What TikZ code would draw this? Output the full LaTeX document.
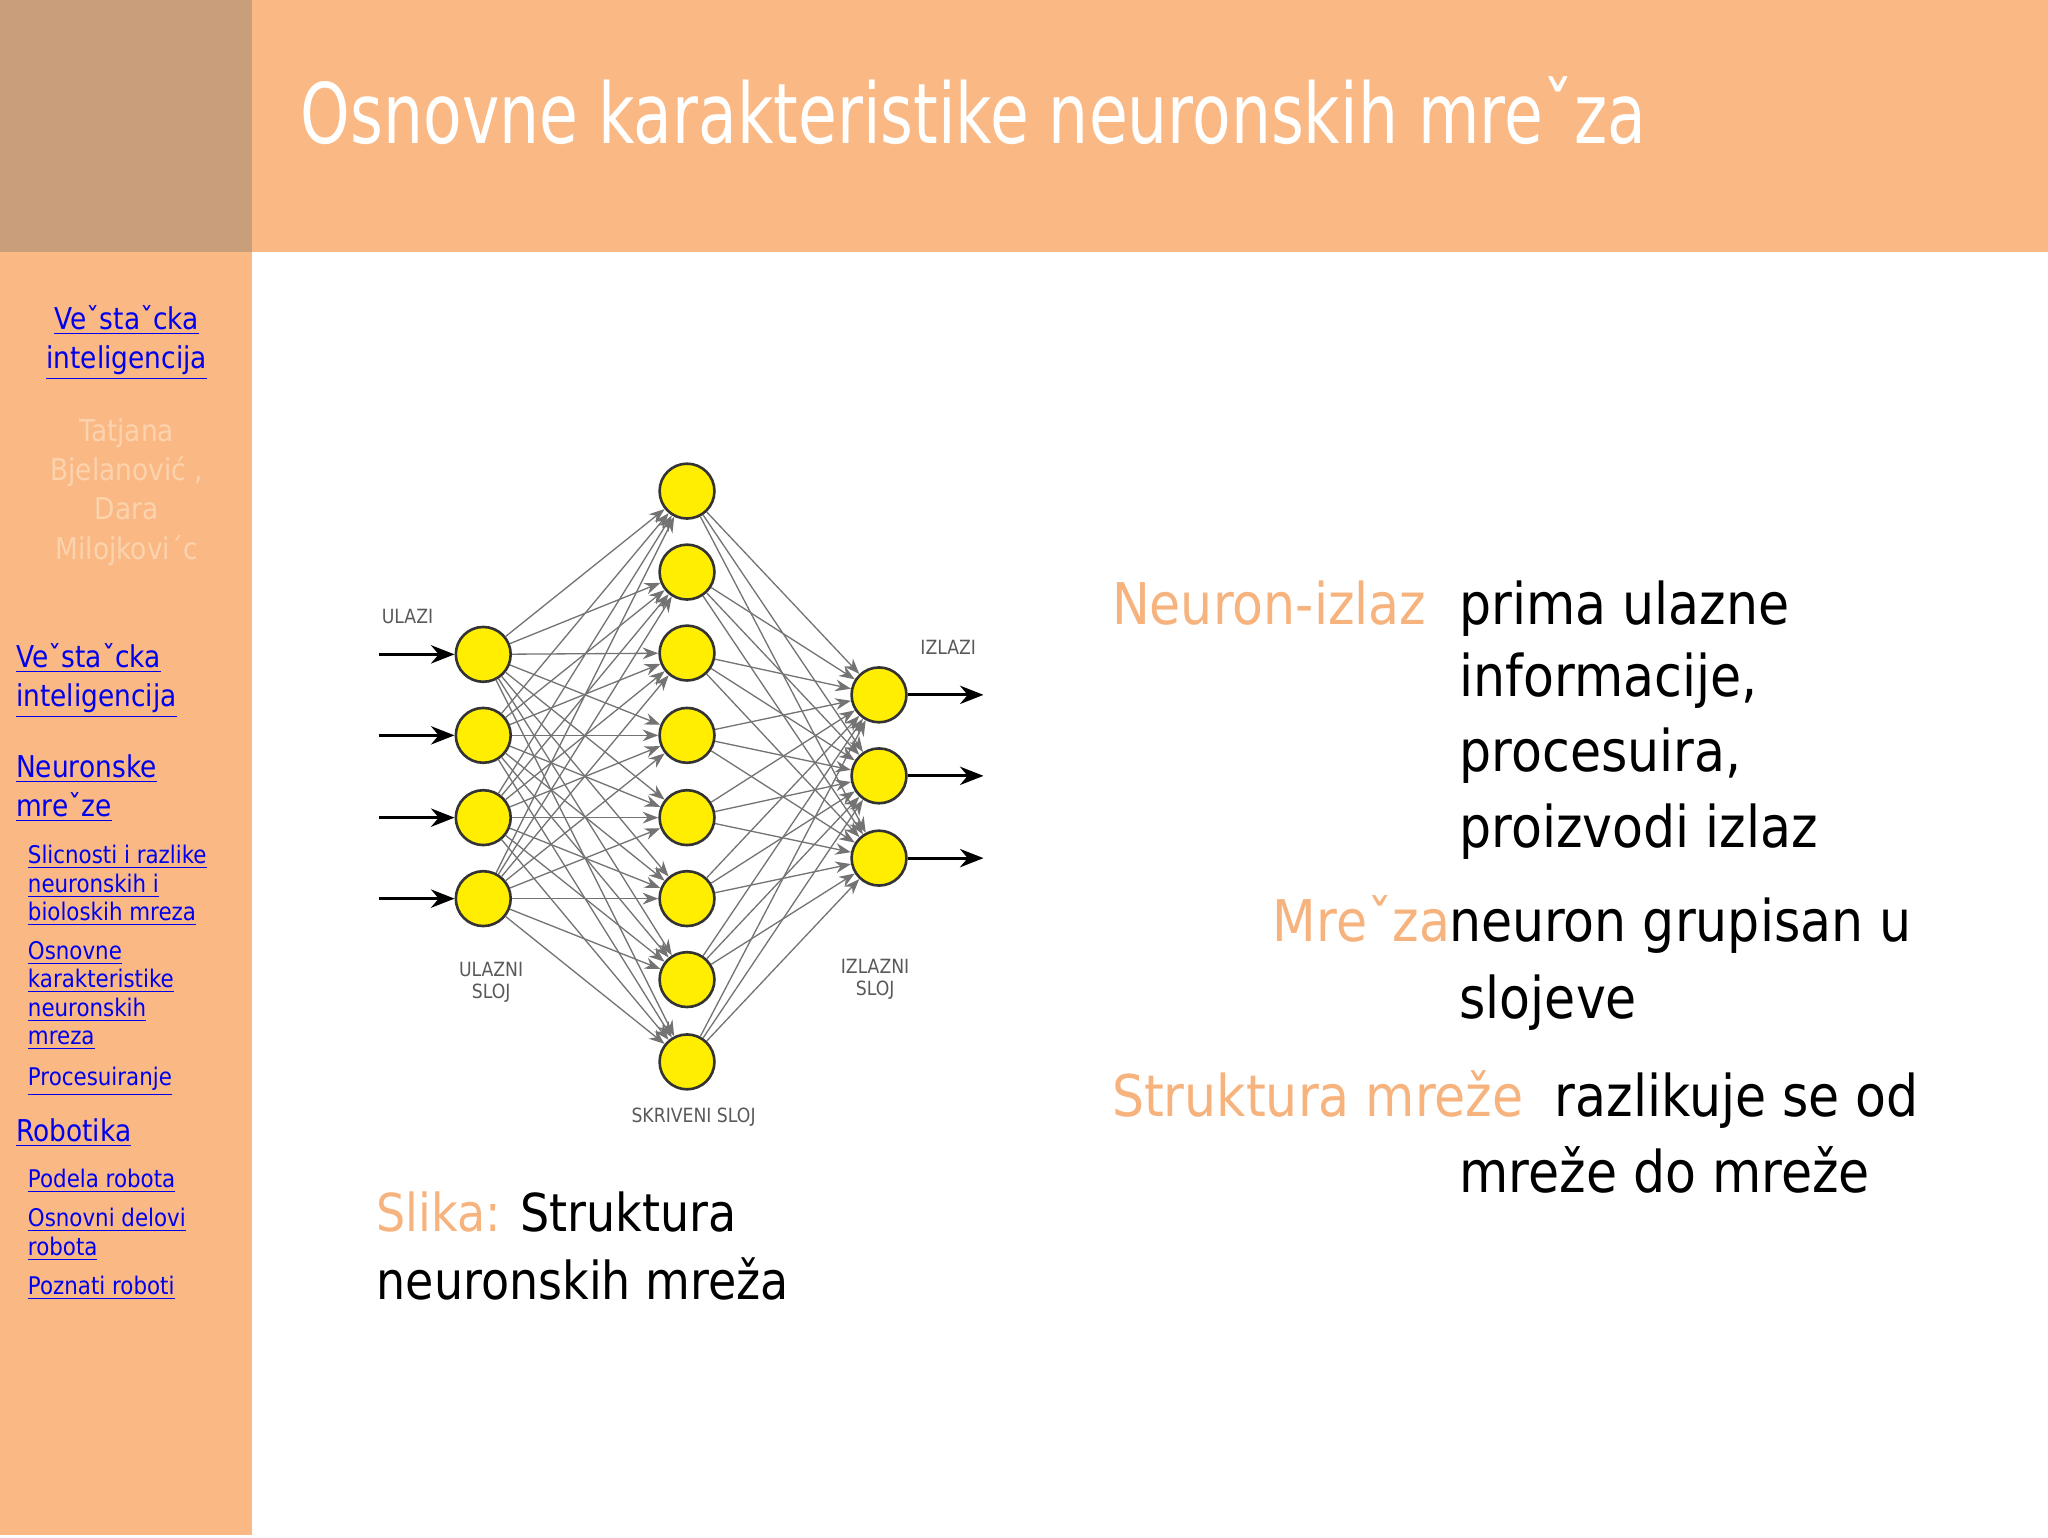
\documentclass[tikz,border=0pt]{standalone}
\usepackage{fontspec}
\setmainfont[FakeStretch=0.88]{DejaVu Sans}
\usetikzlibrary{arrows.meta}
\definecolor{org}{HTML}{F9B884}
\definecolor{tan}{HTML}{C89E7B}
\definecolor{lnk}{HTML}{0000EE}
\definecolor{otx}{HTML}{F7B37E}
\definecolor{ytx}{HTML}{FDD3AE}
\definecolor{yel}{HTML}{FFEE00}
\tikzset{
 neu/.style={circle,draw=black!80,fill=yel,line width=1pt,minimum size=21pt,inner sep=0},
 edge/.style={draw=black!55,line width=0.5pt,-{Stealth[length=6pt,width=4.5pt]}},
 io/.style={draw=black,line width=1.2pt,-{Stealth[length=9pt,width=7pt]}},
 lab/.style={font=\fontsize{7.5}{8.5}\selectfont,text=black!65,align=center},
 tx/.style={anchor=base west,inner sep=0,font=\fontsize{22}{26}\selectfont},
 big/.style={anchor=base west,inner sep=0,align=left,text=lnk,font=\fontsize{11.5}{15}\selectfont},
 sml/.style={anchor=base west,inner sep=0,align=left,text=lnk,font=\fontsize{9.3}{10.9}\selectfont},
}
\begin{document}
\begin{tikzpicture}[x=0.5pt,y=-0.5pt]
\useasboundingbox (0,0) rectangle (1568,1177);
\fill[white] (0,0) rectangle (1568,1177);
\fill[org] (193,0) rectangle (1568,193);
\fill[tan] (0,0) rectangle (193,193);
\fill[org] (0,193) rectangle (193,1175);
\node[anchor=base west,inner sep=0,text=white,font=\addfontfeature{FakeStretch=0.755}\fontsize{32}{40}\selectfont] (title) at (230,110) {Osnovne karakteristike neuronskih mreˇza};
% sidebar
\node[anchor=base,inner sep=0,align=center,text=lnk,font=\fontsize{11.5}{15}\selectfont] (s1) at (97,282) {\underline{Veˇstaˇcka}\\\underline{inteligencija}};
\node[anchor=base,inner sep=0,align=center,text=ytx,font=\fontsize{11.5}{15}\selectfont] (s2) at (97,428) {Tatjana\\Bjelanović ,\\Dara\\Milojkovi´c};
\node[big] (s3) at (12,541) {\underline{Veˇstaˇcka}\\\underline{inteligencija}};
\node[big] (s4) at (12,625) {\underline{Neuronske}\\\underline{mreˇze}};
\node[sml] (s5) at (21,705) {\underline{Slicnosti i razlike}\\\underline{neuronskih i}\\\underline{bioloskih mreza}};
\node[sml] (s6) at (21,800) {\underline{Osnovne}\\\underline{karakteristike}\\\underline{neuronskih}\\\underline{mreza}};
\node[sml] (s7) at (21,831) {\underline{Procesuiranje}};
\node[big] (s8) at (12,874) {\underline{Robotika}};
\node[sml] (s9) at (21,909) {\underline{Podela robota}};
\node[sml] (s10) at (21,961) {\underline{Osnovni delovi}\\\underline{robota}};
\node[sml] (s11) at (21,991) {\underline{Poznati roboti}};
% network
\foreach \i/\y in {1/501,2/563,3/626,4/688} \node[neu] (i\i) at (370,\y) {};
\foreach \i/\y in {1/376,2/438,3/500,4/563,5/626,6/688,7/750,8/813} \node[neu] (h\i) at (526,\y) {};
\foreach \i/\y in {1/532,2/594,3/657} \node[neu] (o\i) at (673,\y) {};
\foreach \a in {1,...,4} \foreach \b in {1,...,8} \draw[edge] (i\a) -- (h\b);
\foreach \a in {1,...,8} \foreach \b in {1,...,3} \draw[edge] (h\a) -- (o\b);
\foreach \i/\y in {1/501,2/563,3/626,4/688} {\coordinate (a\i) at (290,\y); \draw[io] (a\i) -- (i\i);}
\foreach \i/\y in {1/532,2/594,3/657} {\coordinate (b\i) at (753,\y); \draw[io] (o\i) -- (b\i);}
\node[lab] (l1) at (312,472) {ULAZI};
\node[lab] (l2) at (726,496) {IZLAZI};
\node[lab] (l3) at (376,752) {ULAZNI\\SLOJ};
\node[lab] (l4) at (670,750) {IZLAZNI\\SLOJ};
\node[lab] (l5) at (531,855) {SKRIVENI SLOJ};
% caption
\node[tx,font=\fontsize{20}{24}\selectfont] (c1) at (288,943) {\textcolor{otx}{Slika:} Struktura};
\node[tx,font=\fontsize{20}{24}\selectfont] (c2) at (288,995) {neuronskih mreža};
% right text
\node[tx,text=otx] (r1) at (851,478) {Neuron-izlaz};
\node[tx] (r2) at (1117,478) {prima ulazne};
\node[tx] (r3) at (1117,533) {informacije,};
\node[tx] (r4) at (1117,591) {procesuira,};
\node[tx] (r5) at (1117,649) {proizvodi izlaz};
\node[tx,text=otx] (r6) at (974,721) {Mreˇza};
\node[tx] (r7) at (1109,721) {neuron grupisan u};
\node[tx] (r8) at (1117,780) {slojeve};
\node[tx,text=otx] (r9) at (851,855) {Struktura mreže};
\node[tx] (r10) at (1190,855) {razlikuje se od};
\node[tx] (r11) at (1117,913) {mreže do mreže};
\end{tikzpicture}
\end{document}
